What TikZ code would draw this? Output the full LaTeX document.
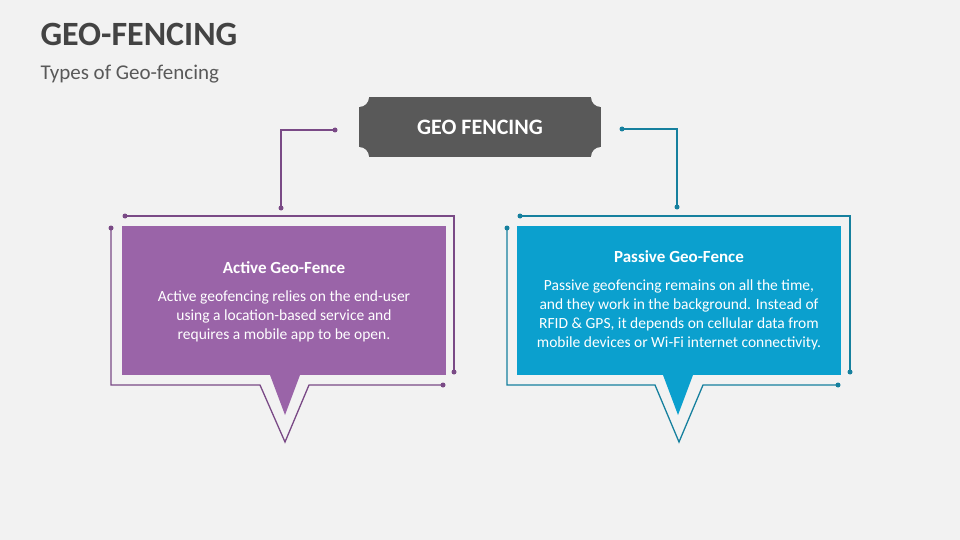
\documentclass[tikz,border=0pt]{standalone}
\usepackage{fontspec}
\setmainfont{Carlito}
\begin{document}
\begin{tikzpicture}[x=1pt,y=-1pt,
  pline/.style={draw=#1,line width=1.3pt},
  dotc/.style={circle,fill=#1,inner sep=0pt,minimum size=5pt},
  body/.style={text=white,align=center,font=\fontsize{15.5}{19}\selectfont}]
\definecolor{bg}{HTML}{F2F2F2}
\definecolor{pur}{HTML}{9A64A8}
\definecolor{purl}{HTML}{7A4A86}
\definecolor{blu}{HTML}{0BA0CE}
\definecolor{blul}{HTML}{16809E}
\definecolor{gr}{HTML}{595959}
\fill[bg] (0,0) rectangle (960,540);
\useasboundingbox (0,0) rectangle (960,540);
\node[anchor=west,text=gr!75!black,font=\bfseries\fontsize{34}{38}\selectfont] (t) at (37,34) {GEO-FENCING};
\node[anchor=west,text=gr,font=\fontsize{21}{25}\selectfont] (st) at (37,74) {Types of Geo-fencing};
% title box
\fill[gr] (359,97) rectangle (601,157);
\foreach \p in {(359,97),(601,97),(359,157),(601,157)} \fill[bg] \p circle[radius=10];
\node[text=white,font=\bfseries\fontsize{22}{26}\selectfont] (gf) at (480,127) {GEO FENCING};
% left connector
\node[dotc=purl] (l1) at (335,130) {};
\node[dotc=purl] (l2) at (281,208) {};
\draw[pline=purl] (l1.center) -| (l2.center);
% left box
\fill[pur] (122,226) rectangle (446,375);
\fill[pur] (270,375) -- (285,415) -- (300,375) -- cycle;
\node[dotc=purl] (a1) at (125,216) {};
\node[dotc=purl] (a2) at (454,372) {};
\draw[pline=purl] (a1.center) -| (a2.center);
\node[dotc=purl] (a3) at (111,228) {};
\node[dotc=purl] (a4) at (443,385) {};
\draw[pline=purl] (a3.center) -- (111,385) -- (260,385) -- (285,442) -- (309,385) -- (a4.center);
\node[body,font=\bfseries\fontsize{17}{20}\selectfont] (at) at (284,268) {Active Geo-Fence};
\node[body] (ab) at (284,316) {Active geofencing relies on the end-user\\using a location-based service and\\requires a mobile app to be open.};
% right connector
\node[dotc=blul] (r1) at (622,129) {};
\node[dotc=blul] (r2) at (677,207) {};
\draw[pline=blul] (r1.center) -| (r2.center);
\fill[blu] (517,226) rectangle (841,375);
\fill[blu] (663,375) -- (678,415) -- (693,375) -- cycle;
\node[dotc=blul] (b1) at (520,216) {};
\node[dotc=blul] (b2) at (850,372) {};
\draw[pline=blul] (b1.center) -| (b2.center);
\node[dotc=blul] (b3) at (507,228) {};
\node[dotc=blul] (b4) at (838,385) {};
\draw[pline=blul] (b3.center) -- (507,385) -- (655,385) -- (679,442) -- (703,385) -- (b4.center);
\node[body,font=\bfseries\fontsize{17}{20}\selectfont] (bt) at (679,257) {Passive Geo-Fence};
\node[body] (bb) at (679,315) {Passive geofencing remains on all the time,\\and they work in the background. Instead of\\RFID \& GPS, it depends on cellular data from\\mobile devices or Wi-Fi internet connectivity.};
\end{tikzpicture}
\end{document}
